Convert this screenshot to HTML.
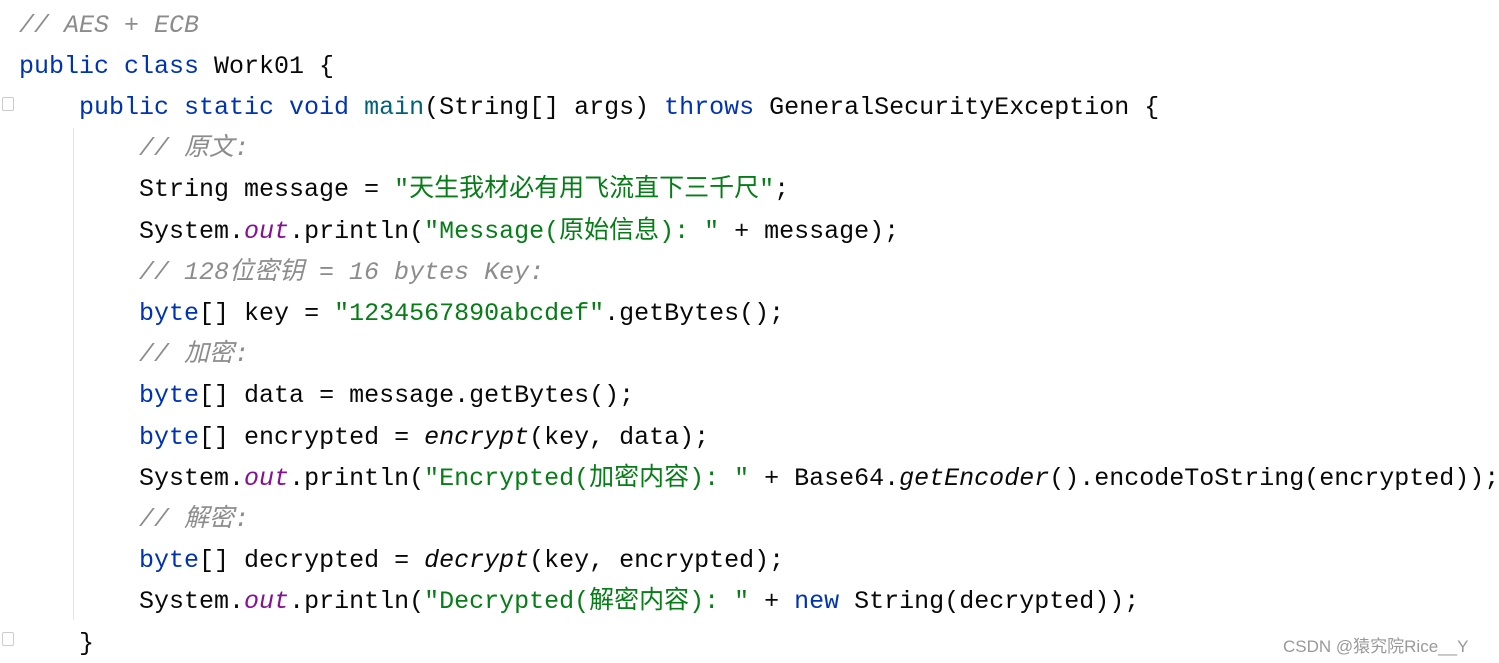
<!DOCTYPE html>
<html><head><meta charset="utf-8"><style>
html,body{margin:0;padding:0;background:#fff;width:1499px;height:663px;overflow:hidden;position:relative}
pre{position:absolute;left:19px;top:4.5px;margin:0;font-family:"Liberation Mono","Noto Sans CJK SC",monospace;font-size:25px;line-height:41.2px;color:#080808;white-space:pre}
.k{color:#0033b3}.c{color:#8c8c8c;font-style:italic}.s{color:#067d17}.f{color:#871094;font-style:italic}.m{color:#00627a}.i{font-style:italic}
.g{position:absolute;left:73px;top:128px;width:1px;height:492px;background:#e4e4e4}
.wm{position:absolute;left:1283px;top:632px;font-family:"Liberation Sans","Noto Sans CJK SC",sans-serif;font-size:17px;color:#999}
.fold{position:absolute;left:2px;width:10px;height:12px;border:1px solid #ccc;border-radius:2px;background:#fff}
</style></head><body>
<div class="g"></div>
<div class="fold" style="top:97px"></div>
<div class="fold" style="top:632px"></div>
<pre><span class="c">// AES + ECB</span>
<span class="k">public class</span> Work01 {
    <span class="k">public static void</span> <span class="m">main</span>(String[] args) <span class="k">throws</span> GeneralSecurityException {
        <span class="c">// 原文:</span>
        String message = <span class="s">"天生我材必有用飞流直下三千尺"</span>;
        System.<span class="f">out</span>.println(<span class="s">"Message(原始信息): "</span> + message);
        <span class="c">// 128位密钥 = 16 bytes Key:</span>
        <span class="k">byte</span>[] key = <span class="s">"1234567890abcdef"</span>.getBytes();
        <span class="c">// 加密:</span>
        <span class="k">byte</span>[] data = message.getBytes();
        <span class="k">byte</span>[] encrypted = <span class="i">encrypt</span>(key, data);
        System.<span class="f">out</span>.println(<span class="s">"Encrypted(加密内容): "</span> + Base64.<span class="i">getEncoder</span>().encodeToString(encrypted));
        <span class="c">// 解密:</span>
        <span class="k">byte</span>[] decrypted = <span class="i">decrypt</span>(key, encrypted);
        System.<span class="f">out</span>.println(<span class="s">"Decrypted(解密内容): "</span> + <span class="k">new</span> String(decrypted));
    }</pre>
<div class="wm">CSDN @猿究院Rice__Y</div>
</body></html>
